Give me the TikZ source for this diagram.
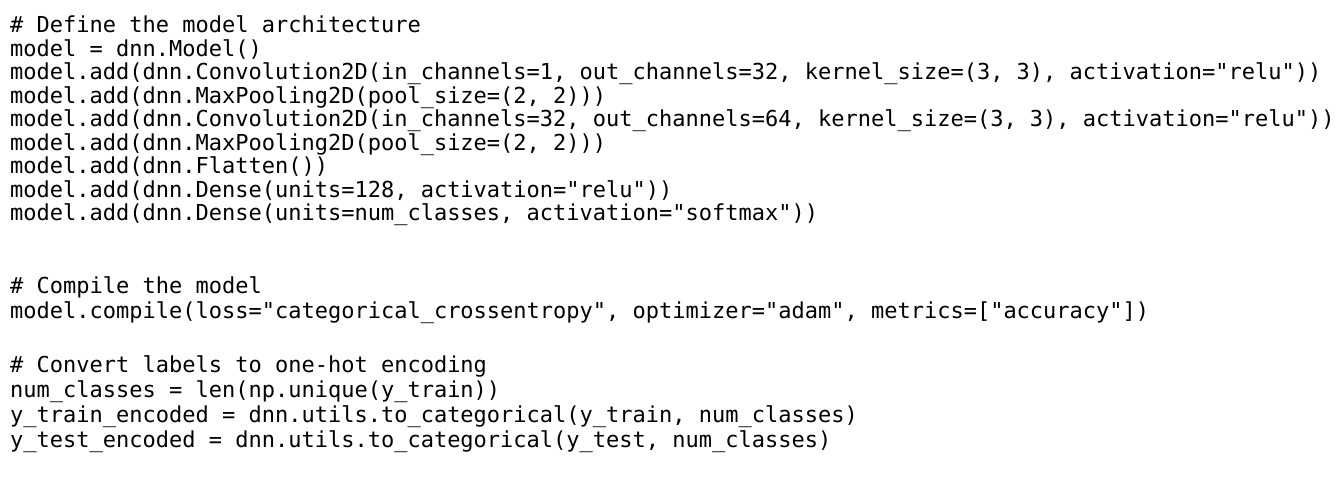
\documentclass[tikz,border=0pt]{standalone}
\usepackage{fontspec}
\setmonofont{DejaVu Sans Mono}
\tikzset{codeline/.style={anchor=base west,inner sep=0pt,font=\ttfamily\fontsize{22}{24}\selectfont}}
\begin{document}
\begin{tikzpicture}[x=1pt,y=1pt,yscale=-1]
\useasboundingbox (0,0) rectangle (1340,478);
% Comment lines and code lines
\node[codeline] (l1) at (10,33) {\# Define the model architecture};
\node[codeline] (l2) at (10,56.5) {model = dnn.Model()};
\node[codeline] (l3) at (10,80) {model.add(dnn.Convolution2D(in\_channels=1, out\_channels=32, kernel\_size=(3, 3), activation="relu"))};
\node[codeline] (l4) at (10,103.5) {model.add(dnn.MaxPooling2D(pool\_size=(2, 2)))};
\node[codeline] (l5) at (10,127) {model.add(dnn.Convolution2D(in\_channels=32, out\_channels=64, kernel\_size=(3, 3), activation="relu"))};
\node[codeline] (l6) at (10,150.5) {model.add(dnn.MaxPooling2D(pool\_size=(2, 2)))};
\node[codeline] (l7) at (10,174) {model.add(dnn.Flatten())};
\node[codeline] (l8) at (10,197.5) {model.add(dnn.Dense(units=128, activation="relu"))};
\node[codeline] (l9) at (10,221) {model.add(dnn.Dense(units=num\_classes, activation="softmax"))};
\node[codeline] (l10) at (10,293) {\# Compile the model};
\node[codeline] (l11) at (10,318) {model.compile(loss="categorical\_crossentropy", optimizer="adam", metrics=["accuracy"])};
\node[codeline] (l12) at (10,372) {\# Convert labels to one-hot encoding};
\node[codeline] (l13) at (10,397) {num\_classes = len(np.unique(y\_train))};
\node[codeline] (l14) at (10,422) {y\_train\_encoded = dnn.utils.to\_categorical(y\_train, num\_classes)};
\node[codeline] (l15) at (10,447) {y\_test\_encoded = dnn.utils.to\_categorical(y\_test, num\_classes)};
\end{tikzpicture}
\end{document}
